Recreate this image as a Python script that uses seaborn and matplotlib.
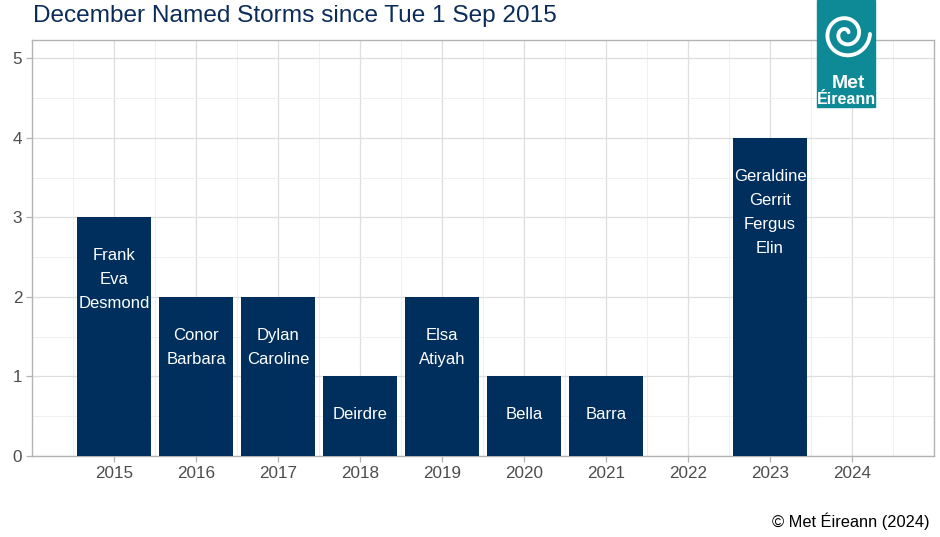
import numpy as np
import pandas as pd
import matplotlib
matplotlib.use("Agg")
import matplotlib.pyplot as plt
from matplotlib.patches import Rectangle
from matplotlib.ticker import MultipleLocator
import seaborn as sns

# Chart data
years = [2015, 2016, 2017, 2018, 2019, 2020, 2021, 2022, 2023, 2024]
counts = [3, 2, 2, 1, 2, 1, 1, 0, 4, 0]
storm_names = [
    ["Frank", "Eva", "Desmond"],
    ["Conor", "Barbara"],
    ["Dylan", "Caroline"],
    ["Deirdre"],
    ["Elsa", "Atiyah"],
    ["Bella"],
    ["Barra"],
    [],
    ["Geraldine", "Gerrit", "Fergus", "Elin"],
    [],
]
title = "December Named Storms since Tue 1 Sep 2015"
caption = "\u00a9 Met \u00c9ireann (2024)"

df = pd.DataFrame({"year": [str(y) for y in years], "count": counts})

sns.set_theme(style="white")
plt.rcParams["font.family"] = ["Liberation Sans", "DejaVu Sans"]

bar_col = "#002F5D"
tick_col = "#4D4D4D"

fig = plt.figure(figsize=(9.4, 5.37), dpi=100)
ax = fig.add_axes([32 / 940, 1 - 456 / 537, (934 - 32) / 940, (456 - 40) / 537])

sns.barplot(data=df, x="year", y="count", order=df["year"], color=bar_col,
            width=0.9, saturation=1, linewidth=0, ax=ax, zorder=3)

ax.set_xlim(-1, len(years))
ax.set_ylim(0, 5.23)
ax.yaxis.set_major_locator(MultipleLocator(1))
ax.yaxis.set_minor_locator(MultipleLocator(0.5))
ax.xaxis.set_minor_locator(MultipleLocator(0.5))
ax.grid(which="major", color="#DEDEDE", lw=0.9, zorder=0)
ax.grid(which="minor", color="#EFEFEF", lw=0.7, zorder=0)
ax.set_axisbelow(True)
for s in ax.spines.values():
    s.set_visible(True)
    s.set_color("#B3B3B3")
    s.set_linewidth(1.0)
ax.tick_params(axis="both", which="major", length=4, color="#B3B3B3", width=0.9,
               labelsize=12.3, labelcolor=tick_col, pad=3, bottom=True, left=True)
ax.tick_params(axis="both", which="minor", length=0)
ax.set_xlabel("")
ax.set_ylabel("")

# storm names inside bars
for i, (c, names) in enumerate(zip(counts, storm_names)):
    for j, nm in enumerate(names):
        ax.annotate(nm, (i, c), xytext=(0, -(38.5 + 24 * j) * 0.72),
                    textcoords="offset points", ha="center", va="center",
                    color="white", fontsize=12, zorder=5)

fig.text(33 / 940, 1 - 16 / 537, title, ha="left", va="center",
         fontsize=17.6, color="#0B2C5A")
fig.text(930 / 940, 1 - 521 / 537, caption, ha="right", va="center",
         fontsize=11.8, color="black")

# logo
lx0, lx1, ly0, ly1 = 817, 875, 0, 107
fig.patches.append(Rectangle((lx0 / 940, 1 - ly1 / 537), (lx1 - lx0) / 940,
                             (ly1 - ly0) / 537, transform=fig.transFigure,
                             color="#0E8A97", zorder=10))
lax = fig.add_axes([lx0 / 940, 1 - 72 / 537, (lx1 - lx0) / 940, 70 / 537], zorder=11)
lax.set_xlim(-29, 29)
lax.set_ylim(-35, 35)
lax.axis("off")
t = np.linspace(0.6, 4.0 * np.pi, 300)
r = 2.0 + 1.75 * t
lax.plot(r * np.cos(t), r * np.sin(t) + 3, color="white", lw=2.8,
         solid_capstyle="round")
fig.text(848 / 940, 1 - 83 / 537, "Met", ha="center", va="center",
         color="white", fontsize=14, fontweight="bold", zorder=12)
fig.text(846 / 940, 1 - 99 / 537, "\u00c9ireann", ha="center", va="center",
         color="white", fontsize=11.5, fontweight="bold", zorder=12)

fig.savefig("out.png", dpi=100)
